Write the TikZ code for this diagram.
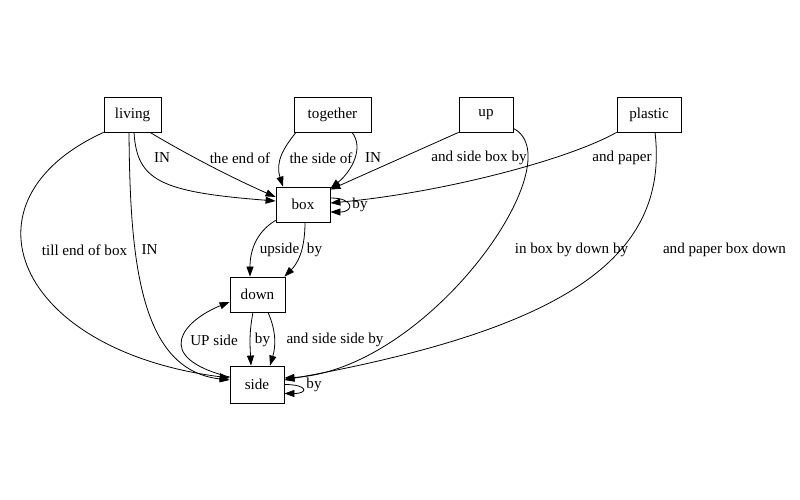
\documentclass[tikz,border=0pt]{standalone}
\usepackage{fontspec}
\setmainfont{Liberation Serif}
\usetikzlibrary{arrows.meta}
\tikzset{
  wordbox/.style={draw, line width=0.016cm, minimum height=0.70cm, inner sep=0pt},
  wordedge/.style={line width=0.016cm, -{Triangle[length=0.20cm,width=0.14cm]}},
  edgelabel/.style={inner sep=0pt}
}
\begin{document}
\begin{tikzpicture}
                        \useasboundingbox (0,0) rectangle (16.000000,10.000000);
                        {\fontsize{8.6}{10}\selectfont
                        
                        % Marking word living by box
                        \node [wordbox, minimum width=1.14cm] (living) at (2.650000,7.710000) {living};%
                        
                        % Marking word together by box
                        \node [wordbox, minimum width=1.54cm] (together) at (6.650000,7.710000) {together};%
                        
                        % Marking word up by box
                        \node [wordbox, minimum width=1.08cm] (up) at (9.720000,7.710000) {up};%
                        
                        % Marking word plastic by box
                        \node [wordbox, minimum width=1.28cm] (plastic) at (12.980000,7.710000) {plastic};%
                        
                        % Marking word box by box
                        \node [wordbox, minimum width=1.08cm] (box) at (6.060000,5.910000) {box};%
                        
                        % Marking word down by box
                        \node [wordbox, minimum width=1.10cm] (down) at (5.150000,4.110000) {down};%
                        
                        % Marking word side by box
                        \node [wordbox, minimum width=1.08cm, minimum height=0.74cm] (side) at (5.140000,2.310000) {side};%
                        
                        % Drawing edges living box
                        \draw [wordedge] ([xshift=0.03cm]living.south) .. controls +(0.06,-0.96) and +(-2.32,0.18) .. ([yshift=0.07cm]box.west);%
                        \node [edgelabel] (lblLivingBoxA) at (3.240000,6.840000) {IN};%
                        \draw [wordedge] ([xshift=0.35cm]living.south) .. controls +(0.60,-0.36) and +(-1.00,0.44) .. ([yshift=0.15cm]box.west);%
                        \node [edgelabel] (lblLivingBoxB) at (4.800000,6.840000) {the end of};%
                        
                        % Drawing edges together box
                        \draw [wordedge] ([xshift=-0.73cm]together.south) .. controls +(-0.24,-0.30) and +(-0.16,0.50) .. ([xshift=-0.40cm]box.north);%
                        \node [edgelabel] (lblTogetherBoxA) at (6.420000,6.840000) {the side of};%
                        \draw [wordedge] ([xshift=0.39cm]together.south) .. controls +(0.24,-0.30) and +(0.44,0.36) .. ([yshift=-0.04cm]box.north east);%
                        \node [edgelabel] (lblTogetherBoxB) at (7.460000,6.840000) {IN};%
                        
                        % Drawing edge up box
                        \draw [wordedge] (up.south west) -- ([yshift=-0.06cm]box.north east);%
                        \node [edgelabel] (lblUpBox) at (9.580000,6.840000) {and side box by};%
                        
                        % Drawing edge plastic box
                        \draw [wordedge] (plastic.south west) .. controls +(-1.00,-0.56) and +(2.20,0.20) .. ([yshift=0.03cm]box.east);%
                        \node [edgelabel] (lblPlasticBox) at (12.440000,6.840000) {and paper};%
                        
                        % Drawing loop box box
                        \draw [wordedge] ([yshift=0.13cm]box.east) .. controls +(0.48,0) and +(0.48,0) .. ([yshift=-0.15cm]box.east);%
                        \node [edgelabel] (lblBoxBox) at (7.200000,5.900000) {by};%
                        
                        % Drawing edges living side
                        \draw [wordedge] (living.south west) .. controls +(-2.98,-1.36) and +(-4.30,0.56) .. ([yshift=0.13cm]side.west);%
                        \node [edgelabel] (lblLivingSideA) at (1.690000,5.000000) {till end of box};%
                        \draw [wordedge] ([xshift=-0.07cm]living.south) .. controls +(0.02,-2.56) and +(-1.80,0.20) .. ([yshift=0.09cm]side.west);%
                        \node [edgelabel] (lblLivingSideB) at (2.990000,5.000000) {IN};%
                        
                        % Drawing edges box down
                        \draw [wordedge] ([yshift=0.04cm]box.south west) .. controls +(-0.40,-0.24) and +(0,0.50) .. ([xshift=-0.15cm]down.north);%
                        \node [edgelabel] (lblBoxDownA) at (5.590000,5.000000) {upside};%
                        \draw [wordedge] ([xshift=0.04cm]box.south) .. controls +(0,-0.60) and +(0.24,0.24) .. ([xshift=-0.02cm]down.north east);%
                        \node [edgelabel] (lblBoxDownB) at (6.290000,5.000000) {by};%
                        
                        % Drawing edges up side and plastic side
                        \draw [wordedge] ([yshift=0.08cm]up.south east) .. controls +(1.24,-0.64) and +(2.90,0.16) .. ([yshift=0.13cm]side.east);%
                        \node [edgelabel] (lblUpSide) at (11.430000,5.000000) {in box by down by};%
                        \draw [wordedge] ([xshift=0.12cm]plastic.south) .. controls +(0.30,-2.56) and +(5.50,1.00) .. ([yshift=0.09cm]side.east);%
                        \node [edgelabel] (lblPlasticSide) at (14.490000,5.000000) {and paper box down};%
                        
                        % Drawing edges down side
                        \draw [wordedge] ([xshift=-0.09cm]down.south) .. controls +(-0.08,-0.40) and +(-0.02,0.40) .. ([xshift=-0.12cm]side.north);%
                        \node [edgelabel] (lblDownSideA) at (5.250000,3.200000) {by};%
                        \draw [wordedge] ([xshift=0.21cm]down.south) .. controls +(0.16,-0.36) and +(0.12,0.40) .. ([xshift=0.26cm]side.north);%
                        \node [edgelabel] (lblDownSideB) at (6.700000,3.200000) {and side side by};%
                        
                        % Drawing edge side down
                        \draw [wordedge] ([yshift=0.15cm]side.west) .. controls +(-1.60,0.40) and +(-0.90,-0.36) .. ([yshift=-0.15cm]down.west);%
                        \node [edgelabel] (lblSideDown) at (4.280000,3.200000) {UP side};%
                        
                        % Drawing loop side side
                        \draw [wordedge] (side.east) .. controls +(0.48,0) and +(0.48,0) .. ([yshift=-0.18cm]side.east);%
                        \node [edgelabel] (lblSideSide) at (6.280000,2.300000) {by};%
                        }
                    \end{tikzpicture}
\end{document}
